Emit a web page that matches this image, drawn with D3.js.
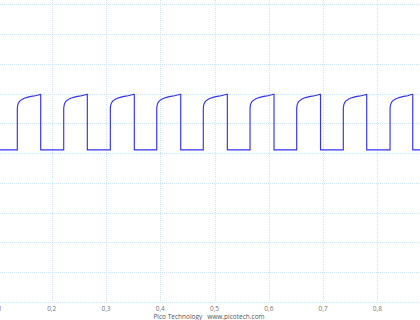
<!DOCTYPE html>
<html lang="en">
<head>
<meta charset="UTF-8" />
<title>Pico waveform</title>
<script src="https://cdn.jsdelivr.net/npm/d3@7"></script>
<style>
  body { margin:0; background:#fff; }
  svg { display:block; }
</style>
</head>
<body>
<svg width="420" height="320"></svg>
<script>
// time axis ticks (shown with a decimal comma)
const xTicks = [0.1, 0.2, 0.3, 0.4, 0.5, 0.6, 0.7, 0.8, 0.9];
const xLabels = [0.1, 0.2, 0.3, 0.4, 0.5, 0.6, 0.7, 0.8];
const yTicks = [-5, -4, -3, -2, -1, 0, 1, 2, 3, 4, 5];

// edge times
const riseTimes = [0.1366, 0.2221, 0.3080, 0.3935, 0.4793, 0.5654, 0.6514, 0.7373, 0.8234];
const fallTimes = [0.1797, 0.2656, 0.3522, 0.4377, 0.5236, 0.6096, 0.6953, 0.7804, 0.8652];

// low level and shape of the high part (time since rising edge, value)
const lowLevel = 0.11;
const highOffsets = [0, 0.0012, 0.004, 0.0085, 0.0142, 0.0234, 0.0326, 0.0418];
const highValues  = [1.5, 1.64, 1.74, 1.8, 1.85, 1.9, 1.93, 1.97];

const svg = d3.select("svg");

const x = d3.scaleLinear().domain([0.1047, 0.8786]).range([0, 420]);
const y = d3.scaleLinear().domain([-5, 5]).range([302, 4.3]);

// grid
svg.append("g").selectAll("line")
  .data(yTicks).join("line")
  .attr("x1", 0).attr("x2", 420)
  .attr("y1", d => Math.round(y(d)) + 0.5).attr("y2", d => Math.round(y(d)) + 0.5)
  .attr("stroke", "#cde4f3").attr("stroke-dasharray", "1,1");

svg.append("g").selectAll("line")
  .data(xTicks).join("line")
  .attr("x1", d => Math.round(x(d)) + 0.5).attr("x2", d => Math.round(x(d)) + 0.5)
  .attr("y1", 0).attr("y2", 302)
  .attr("stroke", "#cde4f3").attr("stroke-dasharray", "1,1");

// tick labels
svg.append("g").selectAll("text")
  .data(xLabels).join("text")
  .attr("x", d => x(d)).attr("y", 311)
  .attr("text-anchor", "middle")
  .attr("font-family", "Open Sans, sans-serif").attr("font-size", 6.5)
  .attr("fill", "#777")
  .text(d => d3.format(".1f")(d).replace(".", ","));

svg.append("text")
  .attr("x", 209).attr("y", 318.5)
  .attr("text-anchor", "middle")
  .attr("font-family", "Open Sans, sans-serif").attr("font-size", 6.5)
  .attr("fill", "#555")
  .attr("xml:space", "preserve")
  .text("Pico Technology   www.picotech.com");

// build trace points from the edges
const pts = [[x.domain()[0], lowLevel]];
riseTimes.forEach((r, i) => {
  const f = fallTimes[i];
  pts.push([r, lowLevel]);
  highOffsets.forEach((o, j) => { if (r + o < f) pts.push([r + o, highValues[j]]); });
  const last = highValues[highValues.length - 1];
  pts.push([f, last + 0.01]);
  pts.push([f, lowLevel]);
});
pts.push([x.domain()[1], lowLevel]);

const line = d3.line()
  .x(d => x(d[0]))
  .y(d => y(d[1]))
  .curve(d3.curveMonotoneX);

svg.append("path")
  .datum(pts)
  .attr("d", line)
  .attr("fill", "none")
  .attr("stroke", "#3434ee")
  .attr("stroke-width", 1.15);
</script>
</body>
</html>
